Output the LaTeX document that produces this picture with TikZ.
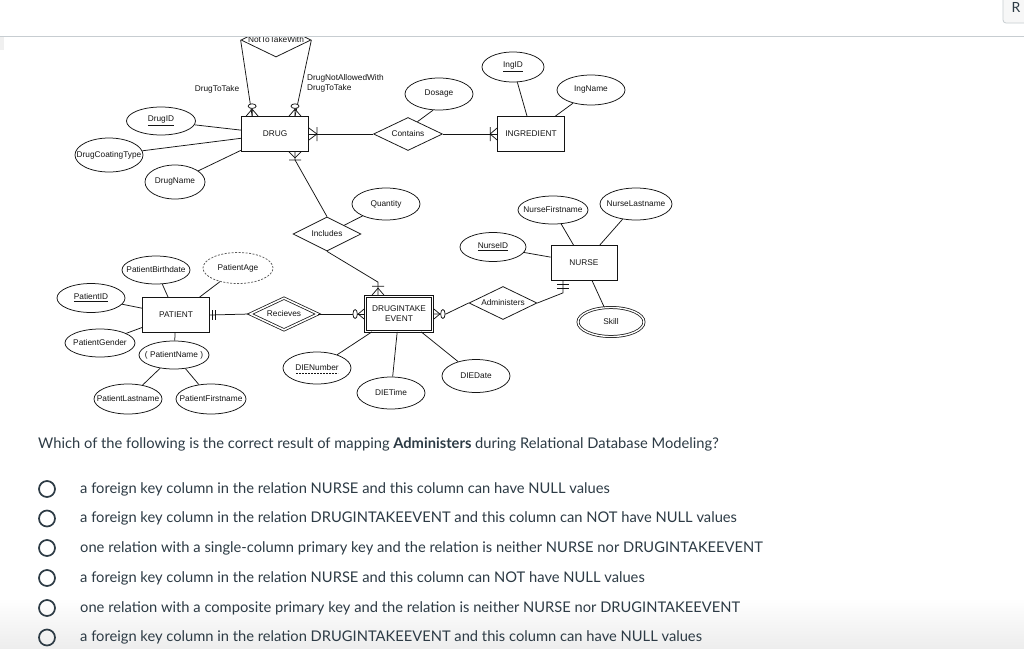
\documentclass[tikz,border=0pt]{standalone}
\usepackage{fontspec}
\setmainfont{Liberation Sans}
\newfontfamily\lato{Lato}
\usetikzlibrary{shapes.geometric,calc}
\definecolor{ink}{HTML}{141414}
\definecolor{qtext}{HTML}{2D3B45}
\definecolor{rulegrey}{HTML}{C7CDD1}
\tikzset{
  er/.style={line width=0.75pt, draw=ink},
  ent/.style={er, rectangle, minimum width=67pt, minimum height=35pt, inner sep=0pt, align=center},
  weakent/.style={ent, double, double distance=1.6pt},
  attr/.style={er, ellipse, inner sep=0pt, minimum width=68pt, minimum height=30pt, label={center:{#1}}},
  rel/.style={er, diamond, inner sep=0pt, minimum width=68pt, minimum height=34pt, label={center:{#1}}},
  conn/.style={line width=0.75pt, draw=ink},
  crow/.style={line width=0.75pt, draw=ink},
  optmark/.style={line width=0.75pt, draw=ink, fill=white},
  radio/.style={draw=qtext, line width=1.7pt, circle, minimum size=16pt, inner sep=0pt},
  opttext/.style={anchor=west, font=\lato\fontsize{14.7}{17}\selectfont, text=qtext, inner sep=0pt},
}
\begin{document}
\begin{tikzpicture}[x=1pt,y=-1pt, font=\fontsize{8.3}{10}\selectfont, text=ink]
\useasboundingbox (0,0) rectangle (1024,648);
\fill[white] (0,0) rectangle (1024,648);
\shade[top color=white, bottom color=black!7] (0,598) rectangle (1024,648);

% ---------- entities ----------
\node[ent] (DRUG) at (275,134) {DRUG};
\node[ent] (INGR) at (531,134) {INGREDIENT};
\node[ent] (PATIENT) at (176,315) {PATIENT};
\node[weakent] (DIE) at (399,314) {DRUGINTAKE\\EVENT};
\node[ent, minimum width=66pt] (NURSE) at (584,263) {NURSE};

% ---------- relationships ----------
\node[rel=NotToTakeWith, minimum width=70pt] (NTTW) at (276,40) {};
\node[rel=Contains, minimum width=69pt, minimum height=33pt] (Contains) at (408,134) {};
\node[rel=Includes] (Includes) at (327,234) {};
\node[rel=Recieves, double, double distance=1.6pt, minimum height=32pt] (Recieves) at (284,314) {};
\node[rel=Administers, minimum height=33pt] (Administers) at (503,303) {};

% ---------- attributes ----------
\node[attr=\underline{DrugID}, minimum width=69pt, minimum height=28pt] (DrugID) at (161,121) {};
\node[attr=DrugCoatingType, minimum height=34pt] (DrugCoat) at (109,155) {};
\node[attr=DrugName, minimum width=60pt, minimum height=34pt] (DrugName) at (175,182) {};
\node[attr=Dosage, minimum height=32pt] (Dosage) at (439,94) {};
\node[attr=\underline{IngID}, minimum width=62pt] (IngID) at (513,67) {};
\node[attr=IngName] (IngName) at (591,90) {};
\node[attr=Quantity, minimum height=32pt] (Quantity) at (386,204) {};
\node[attr=PatientBirthdate, minimum height=28pt] (PBirth) at (156,270) {};
\node[attr=PatientAge, minimum width=70pt, minimum height=31pt, dash pattern=on 2pt off 1.5pt, draw=ink!70] (PAge) at (238,268) {};
\node[attr=\underline{PatientID}, minimum height=29pt] (PID) at (91,298) {};
\node[attr=PatientGender, minimum width=70pt, minimum height=28pt] (PGender) at (100,343) {};
\node[attr={( PatientName )}, minimum width=70pt, minimum height=28pt] (PName) at (174,355) {};
\node[attr=PatientLastname] (PLast) at (128,399) {};
\node[attr=PatientFirstname, minimum width=70pt] (PFirst) at (211,399) {};
\node[attr=DIENumber, minimum height=32pt] (DIENum) at (317,368) {};
\node[attr=DIETime, minimum height=32pt] (DIETime) at (391,393) {};
\node[attr=DIEDate, minimum height=33pt] (DIEDate) at (476,376) {};
\node[attr=\underline{NurseID}, minimum width=66pt, minimum height=29pt] (NurseID) at (493,247) {};
\node[attr=NurseFirstname, minimum width=70pt, minimum height=28pt] (NurseFirst) at (553,210) {};
\node[attr=NurseLastname, minimum width=72pt, minimum height=32pt] (NurseLast) at (636,204) {};
\node[attr=Skill, minimum width=66pt, minimum height=29pt, double, double distance=1.4pt] (Skill) at (611,322) {};
\draw[ink, line width=0.5pt, dash pattern=on 2pt off 1pt] ($(DIENum.center)+(-21,5)$) -- ($(DIENum.center)+(21,5)$);

% ---------- role labels ----------
\node[anchor=center] (lblA) at (217,89) {DrugToTake};
\node[anchor=west, align=left, inner sep=0pt] (lblB) at (307,83.5) {DrugNotAllowedWith\\DrugToTake};

% ---------- attribute links ----------
\draw[conn] (DrugID) -- (DRUG);
\draw[conn] (DrugCoat) -- (DRUG);
\draw[conn] (DrugName) -- (DRUG);
\draw[conn] (Dosage.250) -- ($(Contains.north)!0.27!(Contains.east)$);
\draw[conn] (IngID) -- ($(INGR.north)+(-4,0)$);
\draw[conn] (IngName) -- (INGR);
\draw[conn] (Quantity) -- (Includes);
\draw[conn] (PBirth) -- (PATIENT);
\draw[conn] (PAge) -- (PATIENT);
\draw[conn] (PID) -- (PATIENT);
\draw[conn] (PGender) -- (PATIENT);
\draw[conn] (PName) -- (PATIENT);
\draw[conn] (PLast) -- (PName);
\draw[conn] (PFirst) -- (PName);
\draw[conn] (DIENum) -- (DIE);
\draw[conn] (DIETime) -- (DIE);
\draw[conn] (DIEDate) -- (DIE);
\draw[conn] (NurseID) -- (NURSE);
\draw[conn] (NurseFirst) -- (NURSE);
\draw[conn] (NurseLast) -- (NURSE);
\draw[conn] (Skill) -- (NURSE);

% ---------- relationship links ----------
\coordinate (dtl) at ($(DRUG.north west)+(11,0)$);
\coordinate (dtr) at ($(DRUG.north)+(20,0)$);
\coordinate (dbr) at ($(DRUG.south)+(20,0)$);
\coordinate (dit) at ($(DIE.north)+(-21,-1)$);
\coordinate (nbt) at ($(NURSE.south)+(-21,0)$);
\coordinate (die) at ($(DIE.east)+(1,0)$);
\coordinate (diw) at ($(DIE.west)+(-1,0)$);

\draw[conn] (NTTW.west) -- (dtl);
\draw[conn] (NTTW.east) -- (dtr);
\draw[conn] (DRUG.east) -- (Contains.west);
\draw[conn] (Contains.east) -- (INGR.west);
\draw[conn] (dbr) -- ($(dbr)+(0,8)$) -- (Includes.north);
\draw[conn] (Includes.south) -- ($(dit)+(0,-13)$) -- (dit);
\draw[conn] (PATIENT.east) -- (Recieves.west);
\draw[conn] (Recieves.east) -- (diw);
\draw[conn] (die) -- ($(die)+(12,0)$) -- (Administers.west);
\draw[conn] (Administers.east) -- ($(nbt)+(0,12)$) -- (nbt);

% ---------- cardinality marks ----------
\draw[crow, shift={(dtl)}] (0,-7) -- (-6,0) (0,-7) -- (6,0) (0,-7) -- (0,0);
\draw[optmark] ($(dtl)+(0,-10)$) ellipse [x radius=4, y radius=2.3];
\draw[crow, shift={(dtr)}] (0,-7) -- (-6,0) (0,-7) -- (6,0) (0,-7) -- (0,0);
\draw[optmark] ($(dtr)+(0,-10)$) ellipse [x radius=4, y radius=2.3];
\draw[crow, shift={(DRUG.east)}] (8,0) -- (0,-6) (8,0) -- (0,6) (8,-7) -- (8,7);
\draw[crow, shift={(INGR.west)}] (-7,0) -- (0,-6) (-7,0) -- (0,6) (-7,-7) -- (-7,7);
\draw[crow, shift={(dbr)}] (0,6) -- (-6,0) (0,6) -- (6,0) (-6,8) -- (6,8);
\draw[crow, shift={(dit)}] (0,-7) -- (-6,0) (0,-7) -- (6,0) (-6,-9) -- (6,-9);
\draw[crow, shift={(PATIENT.east)}] (2.5,-5) -- (2.5,5) (5.5,-5) -- (5.5,5);
\draw[crow, shift={(diw)}] (-6,0) -- (0,-5) (-6,0) -- (0,5);
\draw[optmark] ($(diw)+(-9,0)$) ellipse [x radius=2.2, y radius=4.5];
\draw[crow, shift={(die)}] (6,0) -- (0,-5) (6,0) -- (0,5);
\draw[optmark] ($(die)+(9,0)$) ellipse [x radius=2.2, y radius=4.5];
\draw[crow, shift={(nbt)}] (-6,3) -- (6,3) (-6,7.5) -- (6,7.5);

% ---------- page header ----------
\fill[white] (0,0) rectangle (1024,35.5);
\draw[rulegrey, line width=1pt] (0,36) -- (1024,36);
\fill[black!6] (0,36.5) rectangle (4,50);
\draw[rulegrey, fill=black!3, rounded corners=3pt, line width=0.8pt] (1003,-6) rectangle (1034,23);
\node[font=\lato\fontsize{14}{16}\selectfont, text=qtext] (btnR) at (1016,7) {R};

% ---------- question ----------
\node[anchor=west, inner sep=0pt, font=\lato\fontsize{14.7}{17}\selectfont, text=qtext] (question) at (38,444)
  {Which of the following is the correct result of mapping {\bfseries Administers} during Relational Database Modeling?};
\node[radio] (r1) at (47,489) {};
\node[radio] (r2) at (47,518.5) {};
\node[radio] (r3) at (47,548) {};
\node[radio] (r4) at (47,578) {};
\node[radio] (r5) at (47,608) {};
\node[radio] (r6) at (47,637.5) {};
\node[opttext] (o1) at (80,489) {a foreign key column in the relation NURSE and this column can have NULL values};
\node[opttext] (o2) at (80,518.5) {a foreign key column in the relation DRUGINTAKEEVENT and this column can NOT have NULL values};
\node[opttext] (o3) at (80,548) {one relation with a single-column primary key and the relation is neither NURSE nor DRUGINTAKEEVENT};
\node[opttext] (o4) at (80,578) {a foreign key column in the relation NURSE and this column can NOT have NULL values};
\node[opttext] (o5) at (80,608) {one relation with a composite primary key and the relation is neither NURSE nor DRUGINTAKEEVENT};
\node[opttext] (o6) at (80,637.5) {a foreign key column in the relation DRUGINTAKEEVENT and this column can have NULL values};
\end{tikzpicture}
\end{document}
